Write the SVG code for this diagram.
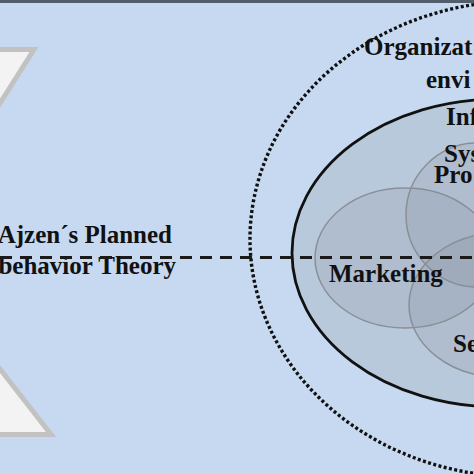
<svg xmlns="http://www.w3.org/2000/svg" width="474" height="474" viewBox="0 0 474 474">
  <style>
    .lbl { font-family: "Liberation Serif", "Times New Roman", serif; font-weight: bold; font-size: 25px; fill: #111111; }
    .tri { fill: #f3f3f3; stroke: #c2c2c2; stroke-width: 5; stroke-linejoin: miter; }
    .venn { fill: #7d8590; fill-opacity: 0.16; stroke: #8a8f96; stroke-width: 1.5; }
  </style>
  <rect x="0" y="0" width="474" height="474" fill="#c6d9f0"/>
  <rect x="0" y="0" width="474" height="3" fill="#525d6c"/>

  <g id="triangle-top">
    <polygon class="tri" points="-100,49.5 34,49.5 -12,122"/>
  </g>
  <g id="triangle-bottom">
    <polygon class="tri" points="-100,434.5 51,434.5 -14,351"/>
  </g>

  <g id="organizational-environment">
    <ellipse cx="521" cy="239" rx="271" ry="238" fill="none" stroke="#111111" stroke-width="3.4" stroke-dasharray="3 2.4"/>
    <text class="lbl" x="364" y="55">Organizat</text>
    <text class="lbl" x="426" y="88">envi</text>
  </g>

  <g id="information-systems">
    <ellipse cx="498" cy="253" rx="206" ry="154" fill="#b9c9dc" stroke="#111111" stroke-width="2.8"/>
    <text class="lbl" x="446" y="125">Inf</text>
  </g>

  <g id="marketing">
    <ellipse class="venn" cx="405" cy="258" rx="90" ry="70"/>
  </g>
  <g id="systems-process">
    <ellipse class="venn" cx="478" cy="215" rx="72" ry="72"/>
  </g>
  <g id="services">
    <ellipse class="venn" cx="500" cy="305" rx="91" ry="72"/>
  </g>

  <g id="labels">
    <text class="lbl" x="444" y="162">Sys</text>
    <text class="lbl" x="434" y="183">Pro</text>
    <text class="lbl" x="329" y="282">Marketing</text>
    <text class="lbl" x="453" y="352">Se</text>
  </g>

  <g id="ajzen-theory">
    <text class="lbl" x="172" y="243" text-anchor="end">Ajzen´s Planned</text>
    <text class="lbl" x="176" y="274" text-anchor="end">behavior Theory</text>
  </g>

  <g id="connectors">
    <line x1="0" y1="257.5" x2="474" y2="257.5" stroke="#1a1a1a" stroke-width="2.8" stroke-dasharray="12 8"/>
  </g>
</svg>
